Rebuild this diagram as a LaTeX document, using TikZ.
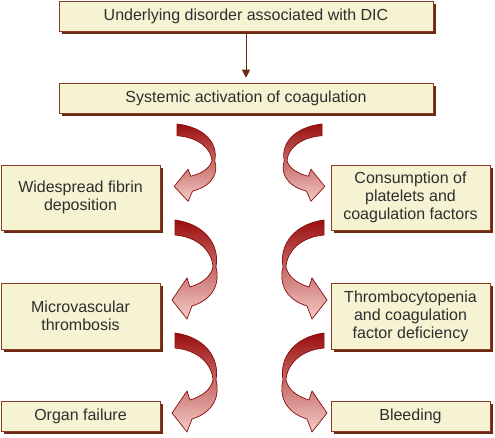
\documentclass[tikz,border=0pt]{standalone}
\usepackage{fontspec}
\setmainfont{Liberation Sans}
\usepackage{tikz}
\usetikzlibrary{arrows.meta,shadows}

\definecolor{boxfill}{HTML}{F6F3D3}
\definecolor{boxedge}{HTML}{8C3B22}
\definecolor{boxshade}{HTML}{6B2A12}
\definecolor{txt}{HTML}{2E2E2E}
\definecolor{ribdark}{HTML}{9A0E0E}
\definecolor{ribmid}{HTML}{B0201E}
\definecolor{riblight}{HTML}{F4CCC6}
\definecolor{ribedge}{HTML}{8A0C0C}

\begin{document}
\begin{tikzpicture}[
  x=1pt, y=-1pt, >=Stealth,
  font=\fontsize{16}{18}\selectfont,
  stage/.style={rectangle, draw=boxedge, line width=0.6pt, fill=boxfill, text=txt,
    align=center, inner sep=2pt,
    drop shadow={shadow xshift=3pt, shadow yshift=-3pt, fill=boxshade, opacity=1}},
  wide/.style={stage, minimum width=374pt, minimum height=30pt},
  side/.style={stage, minimum width=159pt},
  ribbon/.style={draw=ribedge, line width=0.7pt, top color=ribdark, middle color=ribmid, bottom color=riblight},
  link/.style={-{Triangle[length=8pt,width=8pt]}, line width=1pt, boxshade},
  twist/.pic={
    \path[ribbon] (0,0) .. controls (30,4) and (45,25) .. (41,47)
      .. controls (45,61) and (40,79) .. (17,86)
      -- (12,99) -- (-3,80) -- (12,58) -- (15,67)
      .. controls (28,63) and (36,56) .. (38,47)
      .. controls (37,31) and (23,17) .. (0,15) -- cycle;
  },
]
  \useasboundingbox (0,0) rectangle (495,437);

  \node[wide] (dic) at (246,16) {Underlying disorder associated with DIC};
  \node[wide] (act) at (246,98) {Systemic activation of coagulation};
  \draw[link, shorten >=5pt] (dic) -- (act);

  \node[side, minimum height=65pt] (fibrin) at (80.5,197.5) {Widespread fibrin\\deposition};
  \node[side, minimum height=66pt] (micro) at (80.5,316) {Microvascular\\thrombosis};
  \node[side, minimum height=30pt] (organ) at (80.5,416) {Organ failure};
  \node[side, minimum height=65pt] (consume) at (410.5,197.5) {Consumption of\\platelets and\\coagulation factors};
  \node[side, minimum height=66pt] (thrombo) at (410.5,316) {Thrombocytopenia\\and coagulation\\factor deficiency};
  \node[side, minimum height=30pt] (bleed) at (410.5,416) {Bleeding};

  % twisted ribbon arrows, right side mirrored
  \pic[xscale=0.92, yscale=0.78] at (177,124) {twist};
  \pic[xscale=-0.92, yscale=0.78] at (322,124) {twist};
  \foreach \yy in {220,333} {
    \pic at (175,\yy) {twist};
    \pic[xscale=-1] at (324,\yy) {twist};
  }
\end{tikzpicture}
\end{document}
